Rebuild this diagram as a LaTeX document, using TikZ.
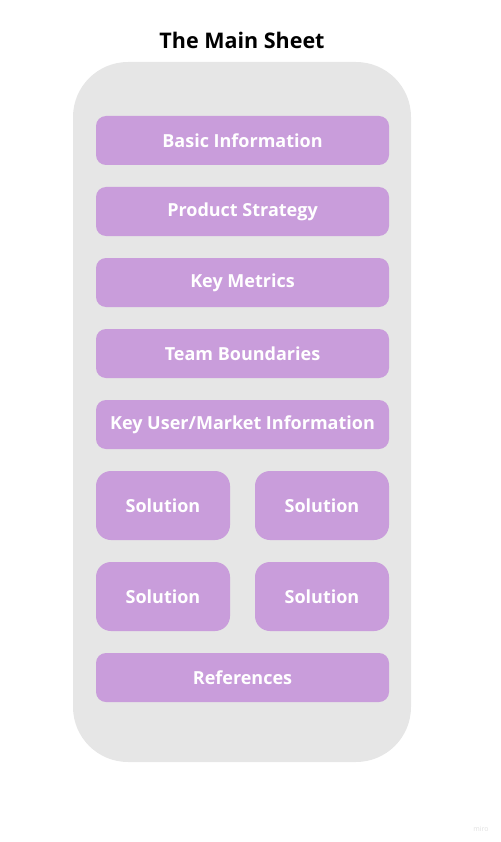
\documentclass[tikz,border=0pt]{standalone}
\usepackage{fontspec}
\setmainfont{Open Sans}
\usetikzlibrary{positioning}

\definecolor{sheetgray}{HTML}{E6E6E6}
\definecolor{boxpurple}{HTML}{C99DDB}

\begin{document}
\begin{tikzpicture}[x=1pt,y=-1pt,node distance=22pt,
  sheet node/.style={fill=sheetgray,rounded corners=55pt,minimum width=338pt,minimum height=700pt},
  main node/.style={fill=boxpurple,rounded corners=10pt,text=white,font=\bfseries\fontsize{18}{21}\selectfont,
    minimum width=293pt,minimum height=49pt,inner sep=0pt,outer sep=0pt},
  half node/.style={main node,rounded corners=15pt,minimum width=134pt,minimum height=69pt}]
    \useasboundingbox (0,0) rectangle (500,842);
    \node[font=\bfseries\fontsize{21.5}{25}\selectfont](title) at (242,40){The Main Sheet};
    \node[sheet node](sheet) at (242,412){};
    \node[main node](basic) at (242.5,140.5){Basic Information};
    \node[main node,below=of basic](strategy){Product Strategy};
    \node[main node,below=of strategy](metrics){Key Metrics};
    \node[main node,below=of metrics](team){Team Boundaries};
    \node[main node,below=of team](market){Key User/Market Information};
    \node[half node,below right=22pt and 0pt of market.south west](sol1){Solution};
    \node[half node,right=25pt of sol1](sol2){Solution};
    \node[half node,below=of sol1](sol3){Solution};
    \node[half node,right=25pt of sol3](sol4){Solution};
    \node[main node,below right=22pt and 0pt of sol3.south west](refs){References};
    \node[text=black!12,font=\fontsize{7}{8}\selectfont](miro) at (481,829){miro};

\end{tikzpicture}
\end{document}
